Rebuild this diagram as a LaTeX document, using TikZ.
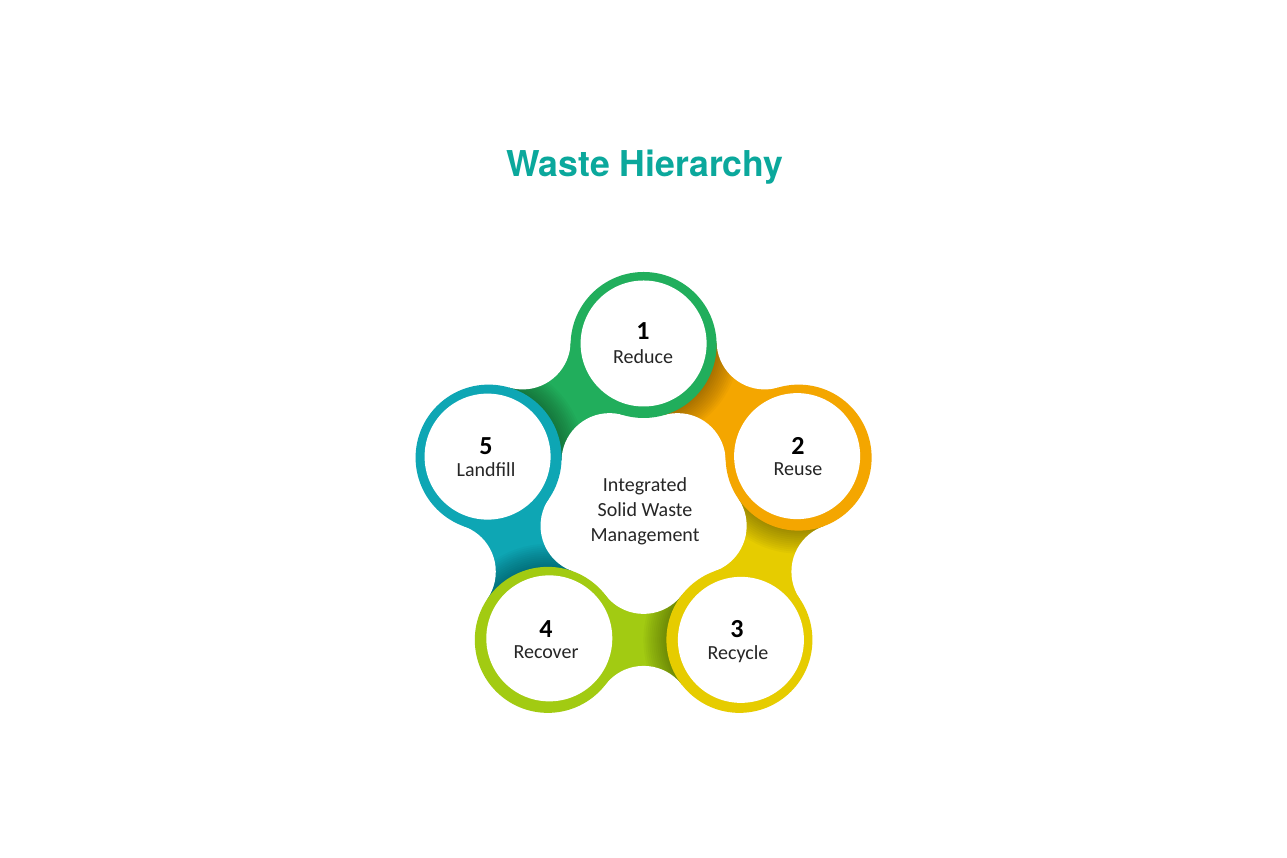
\documentclass[tikz,border=0pt]{standalone}
\usepackage{fontspec}
\setmainfont{Carlito}
\newfontfamily\titlefont{TeX Gyre Heros}
\usetikzlibrary{calc}
\definecolor{cgreen}{HTML}{21AE5C}
\definecolor{corange}{HTML}{F4A600}
\definecolor{cyellow}{HTML}{E6CC00}
\definecolor{clime}{HTML}{A2CB12}
\definecolor{cteal}{HTML}{0EA6B4}
\definecolor{ctitle}{HTML}{0BA89C}
\definecolor{ctext}{HTML}{262626}
\tikzset{
  ringbox/.style={circle, inner sep=0pt, minimum size=146pt},
  holebox/.style={circle, inner sep=0pt, minimum size=126pt, fill=white},
  numtext/.style={anchor=base, font=\fontsize{26}{26}\selectfont\bfseries, text=black},
  labtext/.style={anchor=base, font=\fontsize{20}{20}\selectfont, text=ctext},
}
\begin{document}
\begin{tikzpicture}[x=1pt,y=1pt]
\useasboundingbox[fill=white] (0,0) rectangle (1287,858);
\coordinate (O) at (643.6,350);
\foreach \i/\a in {1/90,2/18,3/-54,4/-126,5/162}{
  \coordinate (c\i) at ($(O)+(\a:163)$);
}
% bridges: bridge from circle i to j coloured like j, shaded near i
\foreach \i/\j/\m/\col in {5/1/126/cgreen,1/2/54/corange,2/3/-18/cyellow,3/4/-90/clime,4/5/-162/cteal}{
  \coordinate (co\i) at ($(O)+(\m:206)$);
  \coordinate (ci\i) at ($(O)+(\m:57.8)$);
  \fill[\col] (c\i) -- (co\i) -- (c\j) -- (ci\i) -- cycle;
  \begin{scope}
    \clip (c\i) -- (co\i) -- (c\j) -- (ci\i) -- cycle;
    \foreach \rr in {96,94,92,90,88,86,84,82,80,78,76,74}{
      \fill[black,opacity=0.028] (c\i) circle (\rr);
    }
  \end{scope}
}
\foreach \i in {1,...,5}{
  \fill[white] (co\i) circle (48.1);
  \fill[white] (ci\i) circle (48.1);
}
% circles
\node[ringbox, fill=cgreen]  (r1) at (c1) {};
\node[ringbox, fill=corange] (r2) at (c2) {};
\node[ringbox, fill=cyellow] (r3) at (c3) {};
\node[ringbox, fill=clime]   (r4) at (c4) {};
\node[ringbox, fill=cteal]   (r5) at (c5) {};
\node[holebox] (h1) at ($(c1)+(0,1.5)$) {};
\node[holebox] (h2) at ($(c2)+(-1.5,1.5)$) {};
\node[holebox] (h3) at ($(c3)+(1.5,0)$) {};
\node[holebox] (h4) at ($(c4)+(1.5,1.5)$) {};
\node[holebox] (h5) at ($(c5)+(-1,1)$) {};
% texts
\node[numtext] (n1) at (643,518) {1};
\node[labtext] (l1) at (643,494.5) {Reduce};
\node[numtext] (n2) at (798,403) {2};
\node[labtext] (l2) at (798,382) {Reuse};
\node[numtext] (n3) at (737,220) {3};
\node[labtext] (l3) at (738,198.5) {Recycle};
\node[numtext] (n4) at (546,220) {4};
\node[labtext] (l4) at (546,199) {Recover};
\node[numtext] (n5) at (486,403) {5};
\node[labtext] (l5) at (486,381) {Landfill};
\node[align=center, text=ctext, font=\fontsize{20}{25}\selectfont] (mid) at (645,347) {Integrated\\Solid Waste\\Management};
\node[anchor=base, text=ctitle, font=\titlefont\bfseries\fontsize{35.6}{36}\selectfont] (title) at (645,681.5) {Waste Hierarchy};
\end{tikzpicture}
\end{document}
